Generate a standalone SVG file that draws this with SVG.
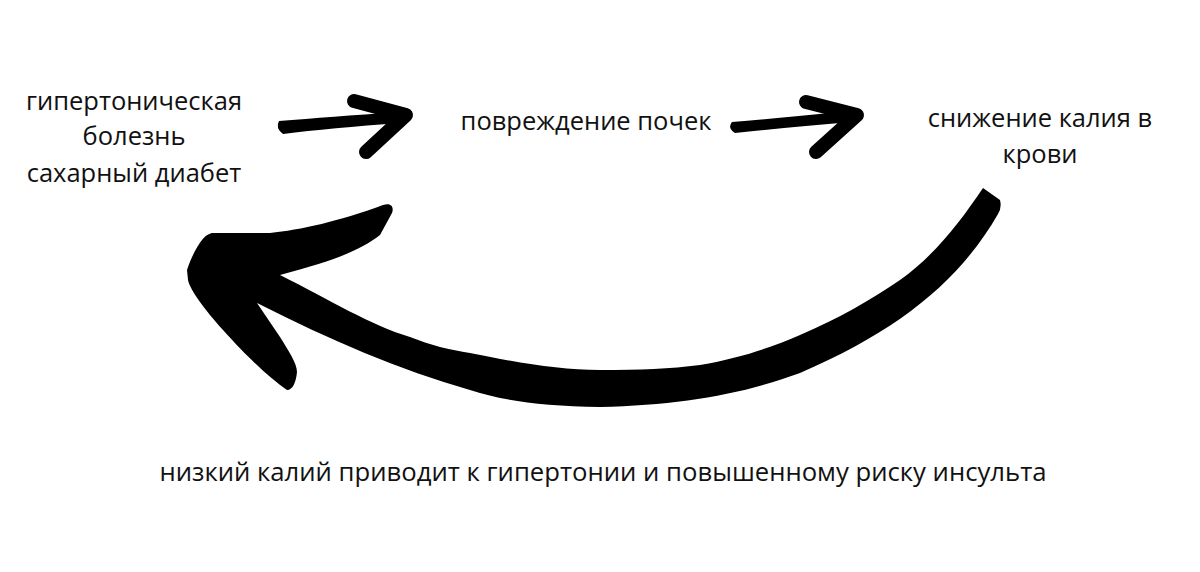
<svg xmlns="http://www.w3.org/2000/svg" width="1200" height="572" viewBox="0 0 1200 572">
<style>
.t{font-family:"Open Sans","Noto Sans","DejaVu Sans",sans-serif;font-size:25.5px;fill:#111;text-anchor:middle}
.ink{fill:#000}
.st{fill:none;stroke:#000;stroke-linecap:round;stroke-linejoin:round}
</style>
<rect width="1200" height="572" fill="#fff"/>
<g id="node-hypertension">
<text class="t" x="134" y="110">гипертоническая</text>
<text class="t" x="134" y="145">болезнь</text>
<text class="t" x="134" y="182">сахарный диабет</text>
</g>
<g id="node-kidney">
<text class="t" x="586" y="130">повреждение почек</text>
</g>
<g id="node-potassium">
<text class="t" x="1040" y="127">снижение калия в</text>
<text class="t" x="1040" y="163">крови</text>
</g>
<g id="node-note">
<text class="t" x="603" y="481" textLength="887" lengthAdjust="spacingAndGlyphs">низкий калий приводит к гипертонии и повышенному риску инсульта</text>
</g>
<g id="connectors">
<g id="arrow1">
<path class="ink" d="M279,121 Q330,117 398,112 L401,123 Q330,128 283,134 Q275,128 279,121 Z"/>
<path class="st" stroke-width="14" d="M354,101 L406,115 L366,152"/>
</g>
<g id="arrow2">
<path class="ink" d="M732,122 Q780,118 850,111 L852,122 Q780,128 735,133 Q727,128 732,122 Z"/>
<path class="st" stroke-width="14" d="M806,102 L857,115 L816,152"/>
</g>
<g id="arrow-loop">
<path class="ink" d="M983,188 L1000,200 Q1002,208 998,214 C960,280 900,330 800,373 C740,395 680,405 600,407 C540,406 500,400 470,390 C400,370 330,340 257,303 L280,337 C288,350 297,363 297,372 C296,382 293,390 287,390 C270,378 250,360 223,330 C205,310 190,290 188,280 L187,270 C192,255 198,245 202,240 C206,235 210,233 213,233 L270,233 C300,230 340,221 383,205 C392,202 394,208 392,213 L380,235 C360,250 337,260 280,275 C330,300 370,325 410,337 C430,345 450,350 470,353 C520,363 560,370 600,370 C640,370 670,369 700,365 C740,358 770,348 800,335 C840,318 870,300 900,280 C935,255 960,222 983,188 Z"/>
</g>
</g>
</svg>
